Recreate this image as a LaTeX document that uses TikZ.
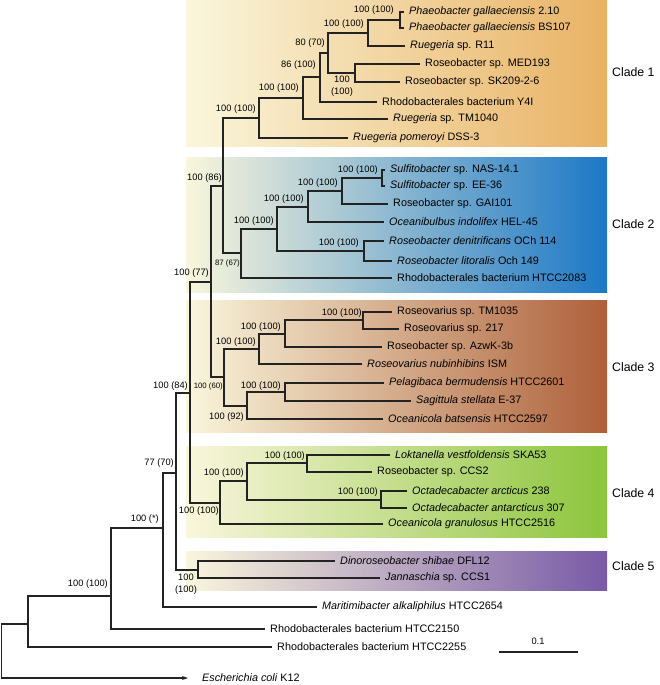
\documentclass[tikz,border=0pt]{standalone}
\usepackage{fontspec}
\setmainfont{Liberation Sans}
\usetikzlibrary{arrows.meta}
\definecolor{cream}{RGB}{250,246,220}
\definecolor{cladeA}{RGB}{233,178,100}
\definecolor{cladeB}{RGB}{28,120,198}
\definecolor{cladeC}{RGB}{174,96,58}
\definecolor{cladeD}{RGB}{140,197,60}
\definecolor{cladeE}{RGB}{120,90,166}
\definecolor{treeline}{RGB}{35,35,35}
\tikzset{
  branch/.style={draw=treeline, line width=1.1pt},
  tip/.style={anchor=west, inner xsep=5pt, inner ysep=0pt, font=\fontsize{10.8}{12}\selectfont},
  support/.style={anchor=east, inner sep=0pt, font=\fontsize{9.3}{11}\selectfont},
  smallsupport/.style={support, font=\fontsize{7.8}{9}\selectfont},
  stacked/.style={inner sep=0pt, align=center, font=\fontsize{9.3}{11.5}\selectfont},
  cladelabel/.style={anchor=west, inner sep=0pt, font=\fontsize{12.3}{14}\selectfont}
}
\begin{document}
\begin{tikzpicture}[x=1pt, y=-1pt]
    \useasboundingbox (0,0) rectangle (659,685);
    \fill[left color=cream, right color=cladeA] (186,0) rectangle (607,146);
    \fill[left color=cream, right color=cladeB] (186,157) rectangle (607,292);
    \fill[left color=cream, right color=cladeC] (186,300) rectangle (607,432);
    \fill[left color=cream, right color=cladeD] (186,446) rectangle (607,537);
    \fill[left color=cream, right color=cladeE] (186,551) rectangle (607,590);
    \node[cladelabel] (k1) at (612,72) {Clade 1};
    \node[cladelabel] (k2) at (612,224) {Clade 2};
    \node[cladelabel] (k3) at (612,367) {Clade 3};
    \node[cladelabel] (k4) at (612,493) {Clade 4};
    \node[cladelabel] (k5) at (612,566) {Clade 5};
    % clade 1
    \node[tip] (t1) at (404,12) {\textit{Phaeobacter gallaeciensis} 2.10};
    \node[tip] (t2) at (404,28) {\textit{Phaeobacter gallaeciensis} BS107};
    \node[tip] (t3) at (405,46) {\textit{Ruegeria} sp. R11};
    \node[tip] (t4) at (420,64) {Roseobacter sp. MED193};
    \node[tip] (t5) at (400,82) {Roseobacter sp. SK209-2-6};
    \node[tip] (t6) at (377,102) {Rhodobacterales bacterium Y4I};
    \node[tip] (t7) at (388,119) {\textit{Ruegeria} sp. TM1040};
    \node[tip] (t8) at (348,138) {\textit{Ruegeria pomeroyi} DSS-3};
    \coordinate (ph) at (400,20);
    \coordinate (n1) at (368,33);
    \coordinate (n2) at (355,73);
    \coordinate (n3) at (328,53);
    \coordinate (n4) at (320,77);
    \coordinate (n5) at (303,98);
    \coordinate (c1) at (259,118);
    \draw[branch] (ph) |- (t1.west) (ph) |- (t2.west);
    \draw[branch] (n1) |- (ph) (n1) |- (t3.west);
    \draw[branch] (n2) |- (t4.west) (n2) |- (t5.west);
    \draw[branch] (n3) |- (n1) (n3) |- (n2);
    \draw[branch] (n4) |- (n3) (n4) |- (t6.west);
    \draw[branch] (n5) |- (n4) (n5) |- (t7.west);
    \draw[branch] (c1) |- (n5) (c1) |- (t8.west);
    \node[support] (s1) at (394,10) {100 (100)};
    \node[support] (s2) at (364,24) {100 (100)};
    \node[stacked] (s3) at (342,86) {100\\(100)};
    \node[support] (s4) at (325,43) {80 (70)};
    \node[support] (s5) at (316,65) {86 (100)};
    \node[support] (s6) at (299,88) {100 (100)};
    \node[support] (s7) at (256,109) {100 (100)};
    % clade 2
    \node[tip] (t9) at (385,170) {\textit{Sulfitobacter} sp. NAS-14.1};
    \node[tip] (t10) at (385,186) {\textit{Sulfitobacter} sp. EE-36};
    \node[tip] (t11) at (388,204) {Roseobacter sp. GAI101};
    \node[tip] (t12) at (384,222) {\textit{Oceanibulbus indolifex} HEL-45};
    \node[tip] (t13) at (384,241) {\textit{Roseobacter denitrificans} OCh 114};
    \node[tip] (t14) at (392,261) {\textit{Roseobacter litoralis} Och 149};
    \node[tip] (t15) at (392,278) {Rhodobacterales bacterium HTCC2083};
    \coordinate (su) at (382,178);
    \coordinate (n6) at (342,191);
    \coordinate (n7) at (308,207);
    \coordinate (n8) at (364,251);
    \coordinate (n9) at (277,229);
    \coordinate (c2) at (241,253);
    \coordinate (n10) at (223,186);
    \draw[branch] (su) |- (t9.west) (su) |- (t10.west);
    \draw[branch] (n6) |- (su) (n6) |- (t11.west);
    \draw[branch] (n7) |- (n6) (n7) |- (t12.west);
    \draw[branch] (n8) |- (t13.west) (n8) |- (t14.west);
    \draw[branch] (n9) |- (n7) (n9) |- (n8);
    \draw[branch] (c2) |- (n9) (c2) |- (t15.west);
    \draw[branch] (n10) |- (c1) (n10) |- (c2);
    \node[support] (s8) at (378,170) {100 (100)};
    \node[support] (s9) at (338,183) {100 (100)};
    \node[support] (s10) at (304,199) {100 (100)};
    \node[support] (s11) at (359,243) {100 (100)};
    \node[support] (s12) at (274,221) {100 (100)};
    \node[smallsupport] (s13) at (240,263) {87 (67)};
    \node[support] (s14) at (222,178) {100 (86)};
    % clade 3
    \node[tip] (t16) at (392,312) {Roseovarius sp. TM1035};
    \node[tip] (t17) at (399,329) {Roseovarius sp. 217};
    \node[tip] (t18) at (382,347) {Roseobacter sp. AzwK-3b};
    \node[tip] (t19) at (362,364) {\textit{Roseovarius nubinhibins} ISM};
    \node[tip] (t20) at (384,383) {\textit{Pelagibaca bermudensis} HTCC2601};
    \node[tip] (t21) at (411,401) {\textit{Sagittula stellata} E-37};
    \node[tip] (t22) at (383,419) {\textit{Oceanicola batsensis} HTCC2597};
    \coordinate (n11) at (363,320);
    \coordinate (n12) at (285,334);
    \coordinate (n13) at (259,349);
    \coordinate (n14) at (285,392);
    \coordinate (n15) at (247,406);
    \coordinate (c3) at (224,377);
    \coordinate (n16) at (211,282);
    \draw[branch] (n11) |- (t16.west) (n11) |- (t17.west);
    \draw[branch] (n12) |- (n11) (n12) |- (t18.west);
    \draw[branch] (n13) |- (n12) (n13) |- (t19.west);
    \draw[branch] (n14) |- (t20.west) (n14) |- (t21.west);
    \draw[branch] (n15) |- (n14) (n15) |- (t22.west);
    \draw[branch] (c3) |- (n13) (c3) |- (n15);
    \draw[branch] (n16) |- (n10) (n16) |- (c3);
    \node[support] (s15) at (362,313) {100 (100)};
    \node[support] (s16) at (281,327) {100 (100)};
    \node[support] (s17) at (256,342) {100 (100)};
    \node[support] (s18) at (281,386) {100 (100)};
    \node[support] (s19) at (244,417) {100 (92)};
    \node[smallsupport] (s20) at (223,386) {100 (60)};
    \node[support] (s21) at (209,273) {100 (77)};
    % clade 4
    \node[tip] (t23) at (390,455) {\textit{Loktanella vestfoldensis} SKA53};
    \node[tip] (t24) at (372,472) {Roseobacter sp. CCS2};
    \node[tip] (t25) at (407,491) {\textit{Octadecabacter arcticus} 238};
    \node[tip] (t26) at (407,508) {\textit{Octadecabacter antarcticus} 307};
    \node[tip] (t27) at (383,524) {\textit{Oceanicola granulosus} HTCC2516};
    \coordinate (n17) at (307,463);
    \coordinate (n18) at (381,500);
    \coordinate (n19) at (247,481);
    \coordinate (c4) at (220,503);
    \coordinate (n20) at (190,393);
    \draw[branch] (n17) |- (t23.west) (n17) |- (t24.west);
    \draw[branch] (n18) |- (t25.west) (n18) |- (t26.west);
    \draw[branch] (n19) |- (n17) (n19) |- (n18);
    \draw[branch] (c4) |- (n19) (c4) |- (t27.west);
    \draw[branch] (n20) |- (n16) (n20) |- (c4);
    \node[support] (s22) at (305,456) {100 (100)};
    \node[support] (s23) at (378,492) {100 (100)};
    \node[support] (s24) at (244,473) {100 (100)};
    \node[support] (s25) at (219,511) {100 (100)};
    \node[support] (s26) at (188,386) {100 (84)};
    % clade 5 and outgroups
    \node[tip] (t28) at (335,561) {\textit{Dinoroseobacter shibae} DFL12};
    \node[tip] (t29) at (380,578) {\textit{Jannaschia} sp. CCS1};
    \node[tip] (t30) at (317,607) {\textit{Maritimibacter alkaliphilus} HTCC2654};
    \node[tip] (t31) at (265,629) {Rhodobacterales bacterium HTCC2150};
    \node[tip] (t32) at (272,647) {Rhodobacterales bacterium HTCC2255};
    \node[tip, inner xsep=14pt] (t33) at (188,678) {\textit{Escherichia coli} K12};
    \coordinate (c5) at (198,570);
    \coordinate (n21) at (176,473);
    \coordinate (n22) at (163,528);
    \coordinate (n23) at (111,596);
    \coordinate (n24) at (28,624);
    \coordinate (root) at (1.5,650);
    \draw[branch] (c5) |- (t28.west) (c5) |- (t29.west);
    \draw[branch] (n21) |- (n20) (n21) |- (c5);
    \draw[branch] (n22) |- (n21) (n22) |- (t30.west);
    \draw[branch] (n23) |- (n22) (n23) |- (t31.west);
    \draw[branch] (n24) |- (n23) (n24) |- (t32.west);
    \draw[branch] (root) |- (n24);
    \draw[branch, -{Stealth[length=6pt, width=4pt]}] (root) |- (t33.west);
    \node[stacked] (s27) at (186,584) {100\\(100)};
    \node[support] (s28) at (174,463) {77 (70)};
    \node[support] (s29) at (159,519) {100 (*)};
    \node[support] (s30) at (108,584) {100 (100)};
    % scale bar
    \coordinate (bar1) at (499,652);
    \coordinate (bar2) at (578,652);
    \draw[branch] (bar1) -- (bar2);
    \node[inner sep=0pt, font=\fontsize{9.3}{11}\selectfont] (barlabel) at (538,641) {0.1};
\end{tikzpicture}
\end{document}
